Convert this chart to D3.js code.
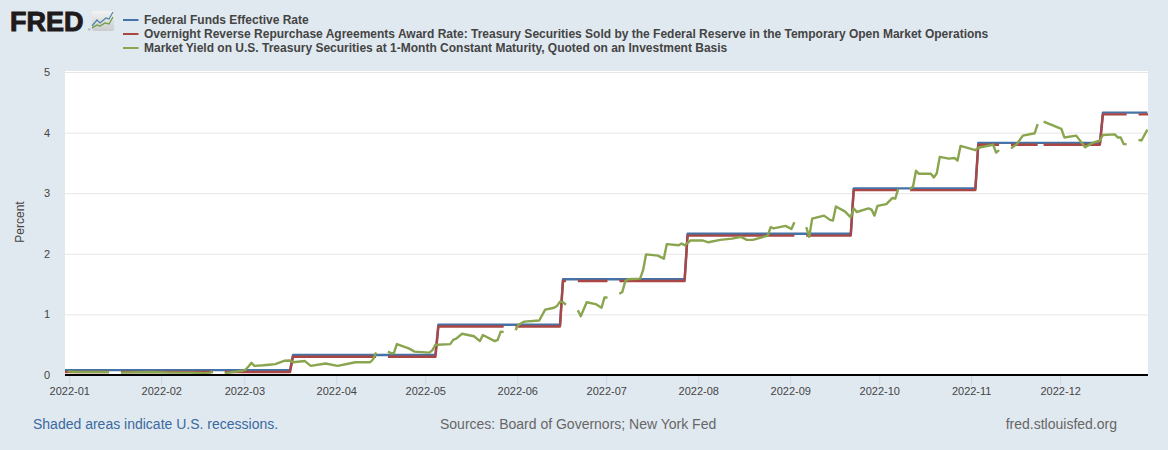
<!DOCTYPE html>
<html><head><meta charset="utf-8">
<script src="https://cdn.jsdelivr.net/npm/d3@7"></script>
<style>
html,body{margin:0;padding:0;background:#e1e9f0;}
svg{display:block;font-family:"Liberation Sans",Arial,sans-serif;}
</style></head><body>
<svg id="c" width="1168" height="450"></svg>
<script>
const seriesNames = [
  "Federal Funds Effective Rate",
  "Overnight Reverse Repurchase Agreements Award Rate: Treasury Securities Sold by the Federal Reserve in the Temporary Open Market Operations",
  "Market Yield on U.S. Treasury Securities at 1-Month Constant Maturity, Quoted on an Investment Basis"
];
const seriesColors = ["#4572A7", "#AA4643", "#89A54E"];
const yTicks = [0, 1, 2, 3, 4, 5];
const xTicks = ["2022-01-01","2022-02-01","2022-03-01","2022-04-01","2022-05-01","2022-06-01","2022-07-01","2022-08-01","2022-09-01","2022-10-01","2022-11-01","2022-12-01"];

const fedDates = ["2021-12-30","2022-03-16","2022-03-17","2022-05-04","2022-05-05","2022-06-15","2022-06-16","2022-07-27","2022-07-28","2022-09-21","2022-09-22","2022-11-02","2022-11-03","2022-12-14","2022-12-15","2022-12-30"];
const fedValues = [0.08,0.08,0.33,0.33,0.83,0.83,1.58,1.58,2.33,2.33,3.08,3.08,3.83,3.83,4.33,4.33];

const rrpDates = ["2021-12-30","2022-01-14","2022-01-17","2022-01-18","2022-02-18","2022-02-21","2022-02-22","2022-03-16","2022-03-17","2022-04-14","2022-04-15","2022-04-18","2022-05-04","2022-05-05","2022-05-27","2022-05-30","2022-05-31","2022-06-15","2022-06-16","2022-06-17","2022-06-20","2022-06-21","2022-07-01","2022-07-04","2022-07-05","2022-07-27","2022-07-28","2022-09-02","2022-09-05","2022-09-06","2022-09-21","2022-09-22","2022-10-07","2022-10-10","2022-10-11","2022-11-02","2022-11-03","2022-11-10","2022-11-11","2022-11-14","2022-11-23","2022-11-24","2022-11-25","2022-12-14","2022-12-15","2022-12-23","2022-12-26","2022-12-27","2022-12-31"];
const rrpValues = [0.05,0.05,null,0.05,0.05,null,0.05,0.05,0.30,0.30,null,0.30,0.30,0.80,0.80,null,0.80,0.80,1.55,1.55,null,1.55,1.55,null,1.55,1.55,2.30,2.30,null,2.30,2.30,3.05,3.05,null,3.05,3.05,3.80,3.80,null,3.80,3.80,null,3.80,3.80,4.30,4.30,null,4.30,4.30];

const yieldDates = ["2021-12-31","2022-01-03","2022-01-07","2022-01-14","2022-01-17","2022-01-18","2022-01-28","2022-02-04","2022-02-11","2022-02-15","2022-02-17","2022-02-18","2022-02-21","2022-02-22","2022-02-28","2022-03-01","2022-03-02","2022-03-03","2022-03-04","2022-03-07","2022-03-09","2022-03-11","2022-03-14","2022-03-16","2022-03-17","2022-03-21","2022-03-23","2022-03-28","2022-04-01","2022-04-05","2022-04-07","2022-04-12","2022-04-13","2022-04-14","2022-04-15","2022-04-18","2022-04-19","2022-04-20","2022-04-21","2022-04-25","2022-04-27","2022-05-02","2022-05-03","2022-05-04","2022-05-05","2022-05-09","2022-05-10","2022-05-11","2022-05-13","2022-05-17","2022-05-19","2022-05-20","2022-05-24","2022-05-25","2022-05-26","2022-05-27","2022-05-30","2022-05-31","2022-06-01","2022-06-03","2022-06-08","2022-06-10","2022-06-13","2022-06-14","2022-06-15","2022-06-16","2022-06-17","2022-06-20","2022-06-21","2022-06-22","2022-06-24","2022-06-27","2022-06-29","2022-06-30","2022-07-01","2022-07-04","2022-07-05","2022-07-06","2022-07-07","2022-07-08","2022-07-12","2022-07-13","2022-07-14","2022-07-18","2022-07-20","2022-07-21","2022-07-25","2022-07-26","2022-07-27","2022-07-29","2022-08-02","2022-08-04","2022-08-08","2022-08-12","2022-08-15","2022-08-17","2022-08-19","2022-08-24","2022-08-25","2022-08-26","2022-08-30","2022-09-01","2022-09-02","2022-09-05","2022-09-06","2022-09-07","2022-09-08","2022-09-12","2022-09-14","2022-09-15","2022-09-16","2022-09-19","2022-09-21","2022-09-22","2022-09-23","2022-09-27","2022-09-28","2022-09-29","2022-09-30","2022-10-03","2022-10-05","2022-10-06","2022-10-07","2022-10-10","2022-10-11","2022-10-12","2022-10-13","2022-10-14","2022-10-18","2022-10-19","2022-10-20","2022-10-21","2022-10-24","2022-10-26","2022-10-27","2022-10-28","2022-11-02","2022-11-03","2022-11-08","2022-11-09","2022-11-10","2022-11-11","2022-11-14","2022-11-16","2022-11-18","2022-11-22","2022-11-23","2022-11-24","2022-11-25","2022-12-01","2022-12-02","2022-12-06","2022-12-09","2022-12-12","2022-12-14","2022-12-15","2022-12-19","2022-12-20","2022-12-21","2022-12-22","2022-12-23","2022-12-26","2022-12-27","2022-12-28","2022-12-30"];
const yieldValues = [0.06,0.05,0.05,0.05,null,0.04,0.05,0.04,0.04,0.03,0.04,0.06,null,0.03,0.07,0.09,0.14,0.20,0.15,0.16,0.17,0.18,0.235,0.24,0.21,0.23,0.15,0.19,0.15,0.19,0.21,0.21,0.26,0.37,null,0.385,0.36,0.36,0.51,0.44,0.385,0.37,0.41,0.50,0.50,0.51,0.58,0.60,0.68,0.64,0.56,0.66,0.56,0.58,0.715,0.71,null,0.74,0.83,0.88,0.90,1.08,1.11,1.14,1.21,1.20,1.16,null,1.07,0.97,1.20,1.17,1.11,1.28,1.28,null,1.34,1.37,1.55,1.58,1.59,1.73,1.99,1.97,1.92,2.16,2.14,2.17,2.14,2.22,2.22,2.19,2.23,2.25,2.28,2.23,2.23,2.30,2.44,2.42,2.46,2.41,2.52,null,2.44,2.28,2.58,2.63,2.56,2.55,2.78,2.70,2.60,2.75,2.69,2.75,2.73,2.63,2.79,2.82,2.92,2.91,3.07,null,3.07,3.11,3.37,3.32,3.32,3.26,3.33,3.60,3.57,3.58,3.54,3.78,3.71,3.75,3.80,3.67,3.71,null,3.74,3.81,3.95,3.99,4.14,null,4.18,4.06,3.92,3.95,3.76,3.84,3.87,3.96,3.97,3.92,3.92,3.81,3.81,null,3.88,3.87,4.05];

const parse = d3.utcParse("%Y-%m-%d");
const svg = d3.select("#c");
const plot = {l:65, r:1148, t:72, b:375};

const x = d3.scaleUtc()
  .domain([new Date(Date.UTC(2021,11,30,13,12)), new Date(Date.UTC(2022,11,30,14,24))])
  .range([plot.l, plot.r]);
const y = d3.scaleLinear().domain([0,5]).range([plot.b, plot.t]);

// plot background
svg.append("rect").attr("x",plot.l).attr("y",plot.t-1).attr("width",plot.r-plot.l).attr("height",plot.b-plot.t+1).attr("fill","#fff");
svg.append("defs").append("clipPath").attr("id","pc").append("rect")
  .attr("x",plot.l).attr("y",plot.t-2).attr("width",plot.r-plot.l).attr("height",plot.b-plot.t+3);

// y axis with grid
const yAxis = svg.append("g").attr("transform",`translate(${plot.l},0)`)
  .call(d3.axisLeft(y).tickValues(yTicks).tickSize(-(plot.r-plot.l)).tickPadding(15).tickFormat(d3.format("d")));
yAxis.select(".domain").remove();
yAxis.selectAll("line").attr("stroke","#e6e6e6").attr("stroke-width",1);
yAxis.selectAll("text").attr("font-size",11).attr("fill","#444").attr("font-family",'"Liberation Sans",Arial,sans-serif');

// x axis
const xAxis = svg.append("g").attr("transform",`translate(0,${plot.b})`)
  .call(d3.axisBottom(x).tickValues(xTicks.map(parse)).tickSize(10).tickPadding(2).tickFormat(d3.utcFormat("%Y-%m")));
xAxis.select(".domain").remove();
xAxis.selectAll("line").attr("stroke","#ccd6eb").attr("stroke-width",1);
xAxis.selectAll("text").attr("font-size",11).attr("fill","#444").attr("font-family",'"Liberation Sans",Arial,sans-serif');

// y title
svg.append("text").attr("transform","translate(24,222) rotate(-90)").attr("text-anchor","middle")
  .attr("font-size",12).attr("fill","#444").text("Percent");

// series
const line = d3.line().defined(d=>d.v!==null).x(d=>x(d.d)).y(d=>y(d.v));
const zip = (ds,vs)=>ds.map((s,i)=>({d:parse(s),v:vs[i]}));
const lines = svg.append("g").attr("clip-path","url(#pc)").append("g").attr("transform","translate(1.2,0)");
[[fedDates,fedValues],[rrpDates,rrpValues],[yieldDates,yieldValues]].forEach(([ds,vs],i)=>{
  lines.append("path").attr("d",line(zip(ds,vs))).attr("fill","none")
    .attr("stroke",seriesColors[i]).attr("stroke-width",2.4).attr("stroke-linejoin","round");
});

// baseline
svg.append("line").attr("x1",plot.l).attr("x2",plot.r).attr("y1",plot.b).attr("y2",plot.b)
  .attr("stroke","#000").attr("stroke-width",2);

// legend
const leg = svg.append("g");
seriesNames.forEach((n,i)=>{
  const yy = 20 + i*14;
  leg.append("line").attr("x1",123).attr("x2",138.5).attr("y1",yy).attr("y2",yy)
    .attr("stroke",seriesColors[i]).attr("stroke-width",2);
  leg.append("text").attr("x",144).attr("y",yy+4).attr("font-size",12).attr("font-weight","bold")
    .attr("fill","#444").text(n);
});

// logo
svg.append("text").attr("x",10).attr("y",31).attr("font-size",28.5).attr("font-weight","bold")
  .attr("fill","#1f1a1c").attr("stroke","#1f1a1c").attr("stroke-width",1)
  .attr("textLength",73.5).attr("lengthAdjust","spacingAndGlyphs").text("FRED");
svg.append("text").attr("x",88).attr("y",31).attr("font-size",3.5).attr("fill","#555").text("®");
const lg = svg.append("defs").append("linearGradient").attr("id","lg").attr("x1",0).attr("x2",0).attr("y1",0).attr("y2",1);
lg.append("stop").attr("offset","0%").attr("stop-color","#f2f3f3");
lg.append("stop").attr("offset","100%").attr("stop-color","#c9cccc");
svg.append("rect").attr("x",92).attr("y",11).attr("width",22).attr("height",20).attr("rx",2).attr("fill","url(#lg)");
svg.append("polyline").attr("points","92,26 97,20 100,23 106,18 109,19 113,12").attr("fill","none").attr("stroke","#4f82a8").attr("stroke-width",1.2);
svg.append("polyline").attr("points","92,28 97,25 100,26 105,23 109,24 113,17").attr("fill","none").attr("stroke","#6a9a3a").attr("stroke-width",1.2);

// footer
svg.append("text").attr("x",33).attr("y",429).attr("font-size",14).attr("fill","#3a6a9e").text("Shaded areas indicate U.S. recessions.");
svg.append("text").attr("x",440).attr("y",429).attr("font-size",14).attr("fill","#666").text("Sources: Board of Governors; New York Fed");
svg.append("text").attr("x",1117).attr("y",429).attr("text-anchor","end").attr("font-size",14).attr("fill","#666").text("fred.stlouisfed.org");
</script>
</body></html>
